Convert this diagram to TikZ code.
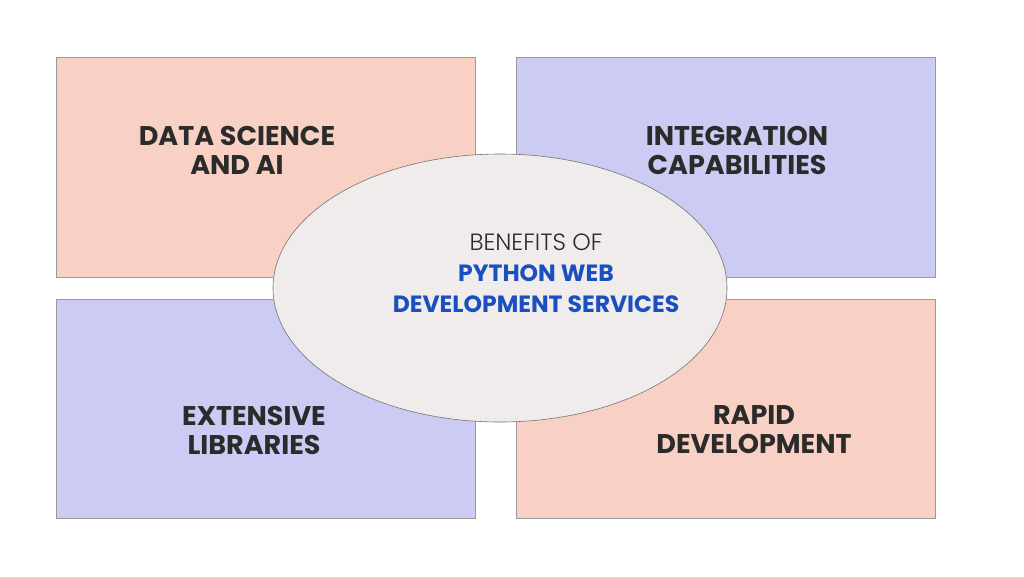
\documentclass[tikz,border=0pt]{standalone}
\usepackage{fontspec}
\setmainfont{Poppins}
\newfontfamily\poplight{Poppins Light}
\definecolor{salm}{HTML}{F9D0C4}
\definecolor{lav}{HTML}{CBCBF3}
\definecolor{ell}{HTML}{F0ECEB}
\definecolor{blu}{HTML}{1A4FBF}
\definecolor{txt}{HTML}{2B2B2B}
\begin{document}
\begin{tikzpicture}[x=1pt,y=-1pt,
  boxs/.style={draw=gray!80, line width=0.6pt},
  lbl/.style={font=\bfseries\fontsize{27}{29}\selectfont, text=txt, align=center}]
\useasboundingbox (0,0) rectangle (1024,576);
\fill[white] (0,0) rectangle (1024,576);
\draw[boxs, fill=salm] (56,57) rectangle (475,277);
\draw[boxs, fill=lav] (516,57) rectangle (935,277);
\draw[boxs, fill=lav] (56,299) rectangle (475,518);
\draw[boxs, fill=salm] (516,299) rectangle (935,518);
\node[lbl] (tl) at (237,150) {DATA SCIENCE\\AND AI};
\node[lbl] (tr) at (737,150) {INTEGRATION\\CAPABILITIES};
\node[lbl] (bl) at (254,430) {EXTENSIVE\\LIBRARIES};
\node[lbl] (br) at (754,430) {RAPID\\DEVELOPMENT};
\draw[draw=gray!90!black, line width=0.6pt, fill=ell] (500,288) ellipse [x radius=227, y radius=134];
\node[align=center, font=\fontsize{23.5}{31}\selectfont] (c) at (536,273) {{\poplight\color{txt}BENEFITS OF}\\{\bfseries\color{blu}PYTHON WEB}\\{\bfseries\color{blu}DEVELOPMENT SERVICES}};
\end{tikzpicture}
\end{document}
